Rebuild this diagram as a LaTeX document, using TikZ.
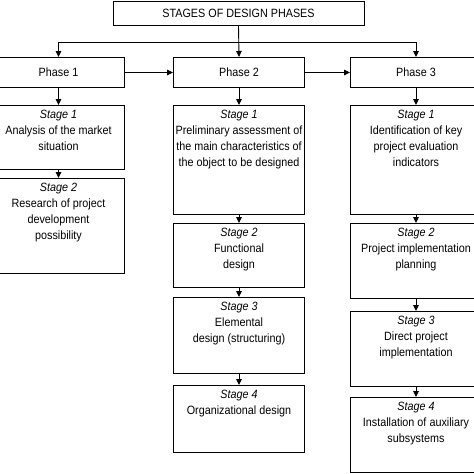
\documentclass[tikz,border=0pt]{standalone}
\usepackage{fontspec}
\setmainfont{Liberation Sans}[FakeStretch=0.9]
\usetikzlibrary{positioning, arrows.meta}
\tikzset{
  box/.style = {draw, line width=1pt, minimum width=131pt, minimum height=30pt,
                inner sep=0pt, anchor=north},
  stg/.style = {anchor=north, align=center, inner sep=0pt, yshift=-5pt},
  arr/.style = {line width=0.9pt, -{Triangle[length=6pt,width=5.5pt]}}
}
\newcommand{\stagetxt}[2]{\textit{Stage #1}\\#2}

\begin{document}
\begin{tikzpicture}[x=1pt, y=-1pt, font=\fontsize{12}{16}\selectfont]
  \path[use as bounding box, clip] (0,0) rectangle (474,474);
  % title and phases
  \node[box, minimum width=251pt, minimum height=24pt] (title) at (238.5,1) {STAGES OF DESIGN PHASES};
  \node[box] (p1) at (58.5,57)  {Phase 1};
  \node[box] (p2) at (239,57)   {Phase 2};
  \node[box] (p3) at (416,57)   {Phase 3};
  \coordinate (fork) at (239,42);
  \draw[arr] (title.south) -- (p2.north);
  \draw[arr] (fork) -| (p1.north);
  \draw[arr] (fork) -| (p3.north);
  \draw[arr] (p1) -- (p2);
  \draw[arr] (p2) -- (p3);
  % phase 1
  \node[box, minimum height=64pt,
        label={[stg]north:{\stagetxt{1}{Analysis of the market\\situation}}}] (a1) at (58.5,105) {};
  \node[box, minimum height=95pt,
        label={[stg]north:{\stagetxt{2}{Research of project\\development\\possibility}}}] (a2) at (58.5,178) {};
  % phase 2
  \node[box, minimum height=109pt,
        label={[stg]north:{\stagetxt{1}{Preliminary assessment of\\the main characteristics of\\the object to be designed}}}] (b1) at (239,105) {};
  \node[box, minimum height=64pt,
        label={[stg]north:{\stagetxt{2}{Functional\\design}}}] (b2) at (239,223) {};
  \node[box, minimum height=76pt,
        label={[stg]north:{\stagetxt{3}{Elemental\\design (structuring)}}}] (b3) at (239,297) {};
  \node[box, minimum height=67pt,
        label={[stg]north:{\stagetxt{4}{Organizational design}}}] (b4) at (239,385) {};
  % phase 3
  \node[box, minimum height=109pt,
        label={[stg]north:{\stagetxt{1}{Identification of key\\project evaluation\\indicators}}}] (c1) at (416,105) {};
  \node[box, minimum height=75pt,
        label={[stg]north:{\stagetxt{2}{Project implementation\\planning}}}] (c2) at (416,223) {};
  \node[box, minimum height=75pt,
        label={[stg]north:{\stagetxt{3}{Direct project\\implementation}}}] (c3) at (416,311) {};
  \node[box, minimum height=75pt,
        label={[stg]north:{\stagetxt{4}{Installation of auxiliary\\subsystems}}}] (c4) at (416,397) {};
  \foreach \u/\v in {p1/a1, a1/a2, p2/b1, b1/b2, b2/b3, b3/b4, p3/c1, c1/c2, c2/c3, c3/c4}
    \draw[arr] (\u.south) -- (\v.north);
\end{tikzpicture}
\end{document}
